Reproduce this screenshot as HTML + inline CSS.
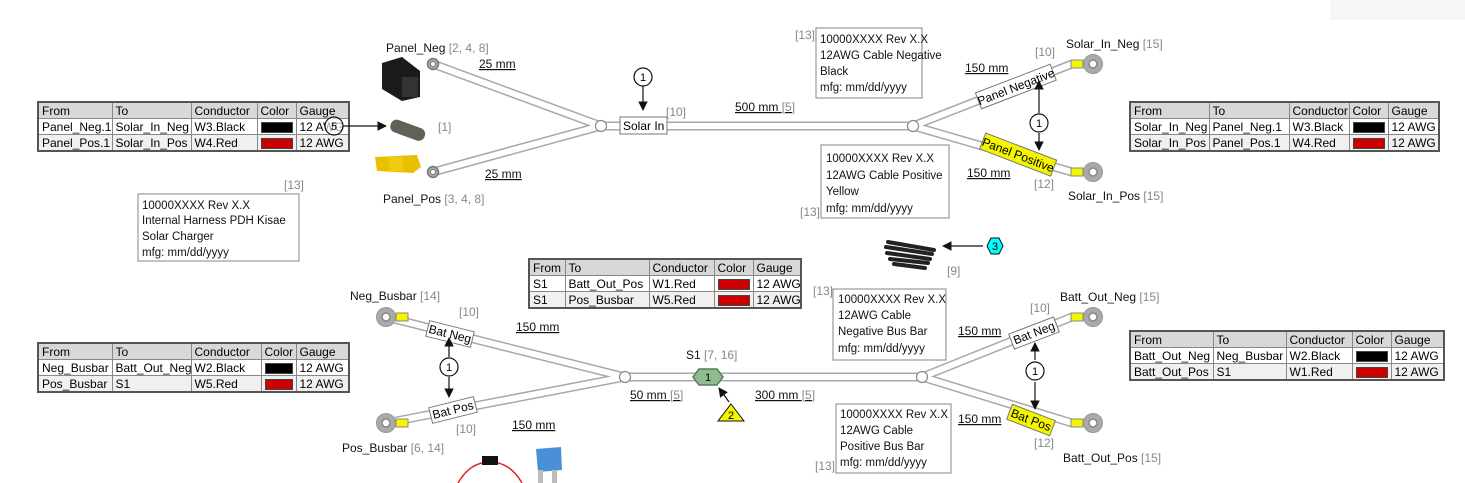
<!DOCTYPE html>
<html><head><meta charset="utf-8"><style>
body{margin:0;width:1465px;height:483px;background:#fff;overflow:hidden;position:relative;font-family:"Liberation Sans",sans-serif}
svg{position:absolute;left:0;top:0}
table{position:absolute;border-collapse:collapse;font-size:12px;border:2px solid #555;table-layout:fixed}
td{border:1px solid #888;height:15px;padding:0 3px;white-space:nowrap;overflow:hidden;line-height:14px}
tr.h td{background:#d8d8d8}
tr.a td{background:#fff}
tr.b td{background:#f0f0f0}
.sw{display:inline-block;width:30px;height:9px;border:1px solid #444;vertical-align:middle}
</style></head><body>
<svg width="1465" height="483" font-family="Liberation Sans, sans-serif" font-size="11.5">
<defs>
<marker id="ar" viewBox="0 0 10 10" refX="9" refY="5" markerWidth="8" markerHeight="8" orient="auto-start-reverse"><path d="M0,0L10,5L0,10z" fill="#111"/></marker>
</defs>
<rect x="1330" y="0" width="135" height="20" fill="#f6f6f6"/>
<g stroke-linecap="butt" fill="none">
<g stroke="#a8a8a8" stroke-width="9">
<path d="M433,64L601,126M433,172L601,126M601,126L913,126M913,126L1072,64M913,126L1072,172"/>
<path d="M386,317L625,377M386,423L625,377M625,377L922,377M922,377L1072,317M922,377L1072,423"/>
</g>
<g stroke="#fff" stroke-width="6">
<path d="M433,64L601,126M433,172L601,126M601,126L913,126M913,126L1072,64M913,126L1072,172"/>
<path d="M386,317L625,377M386,423L625,377M625,377L922,377M922,377L1072,317M922,377L1072,423"/>
</g>
</g>
<g fill="#fff" stroke="#888" stroke-width="1.2">
<circle cx="601" cy="126" r="5.5"/><circle cx="913" cy="126" r="5.5"/><circle cx="625" cy="377" r="5.5"/><circle cx="922" cy="377" r="5.5"/>
</g>
<g fill="#aaa" stroke="#777" stroke-width="1.5">
<circle cx="433" cy="64" r="5.5"/><circle cx="433" cy="172" r="5.5"/>
</g>
<g fill="#fff" stroke="#777" stroke-width="1"><circle cx="433" cy="64" r="2.5"/><circle cx="433" cy="172" r="2.5"/></g>
<g>
<g fill="#aaa" stroke="#999"><circle cx="1093" cy="64" r="9.5"/><circle cx="1093" cy="172" r="9.5"/><circle cx="386" cy="317" r="9.5"/><circle cx="386" cy="423" r="9.5"/><circle cx="1093" cy="317" r="9.5"/><circle cx="1093" cy="423" r="9.5"/></g>
<g fill="#fff" stroke="#888" stroke-width="1.5"><circle cx="1093" cy="64" r="4"/><circle cx="1093" cy="172" r="4"/><circle cx="386" cy="317" r="4"/><circle cx="386" cy="423" r="4"/><circle cx="1093" cy="317" r="4"/><circle cx="1093" cy="423" r="4"/></g>
<g fill="#f5f500" stroke="#888"><rect x="1071" y="60" width="12" height="8"/><rect x="1071" y="168" width="12" height="8"/><rect x="396" y="313" width="12" height="8"/><rect x="396" y="419" width="12" height="8"/><rect x="1071" y="313" width="12" height="8"/><rect x="1071" y="419" width="12" height="8"/></g>
</g>
<g transform="translate(380,55)"><path d="M2,8L22,2L40,16L40,42L22,46L2,34Z" fill="#1a1a1a"/><rect x="22" y="22" width="16" height="20" fill="#333"/></g>
<g transform="translate(393,118) rotate(20)"><rect x="0" y="0" width="36" height="13" rx="6" fill="#5e6358"/></g>
<g transform="translate(373,153)"><path d="M2,4L44,2L48,14L40,20L4,18Z" fill="#e8c000"/><rect x="16" y="4" width="14" height="14" fill="#f0cc10"/></g>
<g stroke="#222" stroke-width="4" stroke-linecap="round" fill="none"><path d="M888,242L934,250M886,247L932,254M887,253L930,259M890,259L928,263M894,264L925,268"/></g>
<path d="M458,483Q470,462 490,462Q510,462 522,483" stroke="#d22" stroke-width="1.5" fill="none"/>
<rect x="482" y="456" width="16" height="9" fill="#111"/>
<path d="M536,449L561,447L562,470L538,472Z" fill="#4a90d8"/><rect x="538" y="470" width="5" height="13" fill="#bbb"/><rect x="552" y="470" width="5" height="13" fill="#bbb"/>
<rect x="620" y="117" width="47" height="17" fill="#fff" stroke="#777"/><text x="623" y="130" font-size="12">Solar In</text>
<g transform="translate(1016,87) rotate(-21)"><rect x="-40" y="-9" width="80" height="17" fill="#fff" stroke="#777"/><text x="0" y="4" text-anchor="middle" font-size="12">Panel Negative</text></g>
<g transform="translate(1018,155) rotate(21)"><rect x="-38" y="-9" width="76" height="17" fill="#f5f500" stroke="#777"/><text x="0" y="4" text-anchor="middle" font-size="12">Panel Positive</text></g>
<g transform="translate(450,334) rotate(14)"><rect x="-23" y="-8" width="46" height="16" fill="#fff" stroke="#777"/><text x="0" y="4" text-anchor="middle" font-size="12">Bat Neg</text></g>
<g transform="translate(453,410) rotate(-14)"><rect x="-23" y="-8" width="46" height="16" fill="#fff" stroke="#777"/><text x="0" y="4" text-anchor="middle" font-size="12">Bat Pos</text></g>
<g transform="translate(1034,333) rotate(-21)"><rect x="-24" y="-8" width="48" height="16" fill="#fff" stroke="#777"/><text x="0" y="4" text-anchor="middle" font-size="12">Bat Neg</text></g>
<g transform="translate(1031,420) rotate(21)"><rect x="-23" y="-8" width="46" height="16" fill="#f5f500" stroke="#777"/><text x="0" y="4" text-anchor="middle" font-size="12">Bat Pos</text></g>
<path d="M693,377L699,369L717,369L723,377L717,385L699,385Z" fill="#8fbc8f" stroke="#5a7a5a" stroke-width="1.5"/>
<text x="708" y="381" text-anchor="middle" font-size="11">1</text>
<g stroke="#111" stroke-width="1.2" fill="none">
<path d="M643,86L643,110" marker-end="url(#ar)"/>
<path d="M1039,113L1039,81" marker-end="url(#ar)"/><path d="M1039,133L1039,150" marker-end="url(#ar)"/>
<path d="M449,357L449,338" marker-end="url(#ar)"/><path d="M449,377L449,397" marker-end="url(#ar)"/>
<path d="M1035,360L1035,343" marker-end="url(#ar)"/><path d="M1035,382L1035,409" marker-end="url(#ar)"/>
<path d="M983,246L943,246" marker-end="url(#ar)"/>
<path d="M729,402L719,388" marker-end="url(#ar)"/>
</g>
<g fill="#fff" stroke="#111" stroke-width="1.2">
<circle cx="643" cy="77" r="9"/><circle cx="1039" cy="123" r="9"/><circle cx="449" cy="367" r="9"/><circle cx="1035" cy="371" r="9"/>
</g>
<g text-anchor="middle" font-size="11"><text x="643" y="81">1</text><text x="1039" y="127">1</text><text x="449" y="371">1</text><text x="1035" y="375">1</text></g>
<path d="M987,246L991,238L999,238L1003,246L999,254L991,254Z" fill="#00ffff" stroke="#111"/><text x="995" y="250" text-anchor="middle" font-size="11">3</text>
<path d="M731,404L744,421L718,421Z" fill="#f5f500" stroke="#111"/><text x="731" y="419" text-anchor="middle" font-size="11">2</text>
<g fill="#111" font-size="12">
<text x="386" y="52">Panel_Neg <tspan fill="#888">[2, 4, 8]</tspan></text>
<text x="383" y="203">Panel_Pos <tspan fill="#888">[3, 4, 8]</tspan></text>
<text x="438" y="131" fill="#888">[1]</text>
<text x="666" y="116" fill="#888">[10]</text>
<text x="735" y="111" text-decoration="underline">500 mm <tspan fill="#888" text-decoration="none">[5]</tspan></text>
<text x="479" y="68" text-decoration="underline">25 mm</text>
<text x="485" y="178" text-decoration="underline">25 mm</text>
<text x="1066" y="48">Solar_In_Neg <tspan fill="#888">[15]</tspan></text>
<text x="1068" y="200">Solar_In_Pos <tspan fill="#888">[15]</tspan></text>
<text x="1035" y="56" fill="#888">[10]</text>
<text x="1034" y="188" fill="#888">[12]</text>
<text x="965" y="72" text-decoration="underline">150 mm</text>
<text x="967" y="177" text-decoration="underline">150 mm</text>
<text x="795" y="39" fill="#888">[13]</text>
<text x="800" y="216" fill="#888">[13]</text>
<text x="284" y="189" fill="#888">[13]</text>
<text x="947" y="275" fill="#888">[9]</text>
<text x="350" y="300">Neg_Busbar <tspan fill="#888">[14]</tspan></text>
<text x="342" y="452">Pos_Busbar <tspan fill="#888">[6, 14]</tspan></text>
<text x="459" y="316" fill="#888">[10]</text>
<text x="456" y="433" fill="#888">[10]</text>
<text x="516" y="331" text-decoration="underline">150 mm</text>
<text x="512" y="429" text-decoration="underline">150 mm</text>
<text x="686" y="359">S1 <tspan fill="#888">[7, 16]</tspan></text>
<text x="630" y="399" text-decoration="underline">50 mm <tspan fill="#888" text-decoration="none">[5]</tspan></text>
<text x="755" y="399" text-decoration="underline">300 mm <tspan fill="#888" text-decoration="none">[5]</tspan></text>
<text x="1060" y="301">Batt_Out_Neg <tspan fill="#888">[15]</tspan></text>
<text x="1063" y="462">Batt_Out_Pos <tspan fill="#888">[15]</tspan></text>
<text x="1030" y="312" fill="#888">[10]</text>
<text x="1034" y="447" fill="#888">[12]</text>
<text x="958" y="335" text-decoration="underline">150 mm</text>
<text x="958" y="423" text-decoration="underline">150 mm</text>
<text x="813" y="295" fill="#888">[13]</text>
<text x="815" y="470" fill="#888">[13]</text>
</g>
<g fill="#fff" stroke="#999" stroke-width="1.2">
<rect x="816" y="28" width="106" height="70"/><rect x="821" y="145" width="128" height="73"/><rect x="138" y="194" width="161" height="67"/><rect x="833" y="289" width="113" height="71"/><rect x="836" y="404" width="115" height="69"/>
</g>
<g fill="#111" font-size="11.5">
<text x="820" y="43">10000XXXX Rev X.X</text><text x="820" y="59">12AWG Cable Negative</text><text x="820" y="75">Black</text><text x="820" y="91">mfg: mm/dd/yyyy</text>
<text x="826" y="162">10000XXXX Rev X.X</text><text x="826" y="179">12AWG Cable Positive</text><text x="826" y="195">Yellow</text><text x="826" y="212">mfg: mm/dd/yyyy</text>
<text x="142" y="209">10000XXXX Rev X.X</text><text x="142" y="224">Internal Harness PDH Kisae</text><text x="142" y="240">Solar Charger</text><text x="142" y="256">mfg: mm/dd/yyyy</text>
<text x="838" y="303">10000XXXX Rev X.X</text><text x="838" y="319">12AWG Cable</text><text x="838" y="335">Negative Bus Bar</text><text x="838" y="352">mfg: mm/dd/yyyy</text>
<text x="840" y="418">10000XXXX Rev X.X</text><text x="840" y="434">12AWG Cable</text><text x="840" y="450">Positive Bus Bar</text><text x="840" y="466">mfg: mm/dd/yyyy</text>
</g>
</svg>

<table style="left:37px;top:101px;width:311px">
<colgroup><col style="width:74px"><col style="width:79px"><col style="width:66px"><col style="width:39px"><col style="width:53px"></colgroup>
<tr class="h"><td>From</td><td>To</td><td>Conductor</td><td>Color</td><td>Gauge</td></tr>
<tr class="a"><td>Panel_Neg.1</td><td>Solar_In_Neg</td><td>W3.Black</td><td><span class="sw" style="background:#000"></span></td><td>12 AWG</td></tr>
<tr class="b"><td>Panel_Pos.1</td><td>Solar_In_Pos</td><td>W4.Red</td><td><span class="sw" style="background:#c00"></span></td><td>12 AWG</td></tr>
</table>
<table style="left:1129px;top:101px;width:309px">
<colgroup><col style="width:79px"><col style="width:80px"><col style="width:60px"><col style="width:39px"><col style="width:51px"></colgroup>
<tr class="h"><td>From</td><td>To</td><td>Conductor</td><td>Color</td><td>Gauge</td></tr>
<tr class="a"><td>Solar_In_Neg</td><td>Panel_Neg.1</td><td>W3.Black</td><td><span class="sw" style="background:#000"></span></td><td>12 AWG</td></tr>
<tr class="b"><td>Solar_In_Pos</td><td>Panel_Pos.1</td><td>W4.Red</td><td><span class="sw" style="background:#c00"></span></td><td>12 AWG</td></tr>
</table>
<table style="left:528px;top:258px;width:272px">
<colgroup><col style="width:36px"><col style="width:84px"><col style="width:65px"><col style="width:39px"><col style="width:48px"></colgroup>
<tr class="h"><td>From</td><td>To</td><td>Conductor</td><td>Color</td><td>Gauge</td></tr>
<tr class="a"><td>S1</td><td>Batt_Out_Pos</td><td>W1.Red</td><td><span class="sw" style="background:#c00"></span></td><td>12 AWG</td></tr>
<tr class="b"><td>S1</td><td>Pos_Busbar</td><td>W5.Red</td><td><span class="sw" style="background:#c00"></span></td><td>12 AWG</td></tr>
</table>
<table style="left:37px;top:342px;width:311px">
<colgroup><col style="width:74px"><col style="width:79px"><col style="width:70px"><col style="width:35px"><col style="width:53px"></colgroup>
<tr class="h"><td>From</td><td>To</td><td>Conductor</td><td>Color</td><td>Gauge</td></tr>
<tr class="a"><td>Neg_Busbar</td><td>Batt_Out_Neg</td><td>W2.Black</td><td><span class="sw" style="background:#000;width:26px"></span></td><td>12 AWG</td></tr>
<tr class="b"><td>Pos_Busbar</td><td>S1</td><td>W5.Red</td><td><span class="sw" style="background:#c00;width:26px"></span></td><td>12 AWG</td></tr>
</table>
<table style="left:1129px;top:330px;width:314px">
<colgroup><col style="width:83px"><col style="width:73px"><col style="width:66px"><col style="width:39px"><col style="width:53px"></colgroup>
<tr class="h"><td>From</td><td>To</td><td>Conductor</td><td>Color</td><td>Gauge</td></tr>
<tr class="a"><td>Batt_Out_Neg</td><td>Neg_Busbar</td><td>W2.Black</td><td><span class="sw" style="background:#000"></span></td><td>12 AWG</td></tr>
<tr class="b"><td>Batt_Out_Pos</td><td>S1</td><td>W1.Red</td><td><span class="sw" style="background:#c00"></span></td><td>12 AWG</td></tr>
</table>
<svg width="1465" height="483" style="pointer-events:none">
<defs><marker id="ar2" viewBox="0 0 10 10" refX="9" refY="5" markerWidth="8" markerHeight="8" orient="auto"><path d="M0,0L10,5L0,10z" fill="#111"/></marker></defs>
<path d="M343,126L386,126" stroke="#111" stroke-width="1.2" marker-end="url(#ar2)"/>
<circle cx="334" cy="126" r="9" fill="#fff" fill-opacity="0.6" stroke="#111" stroke-width="1.2"/>
<text x="334" y="130" text-anchor="middle" font-size="11" font-family="Liberation Sans, sans-serif">5</text>
</svg>
</body></html>
